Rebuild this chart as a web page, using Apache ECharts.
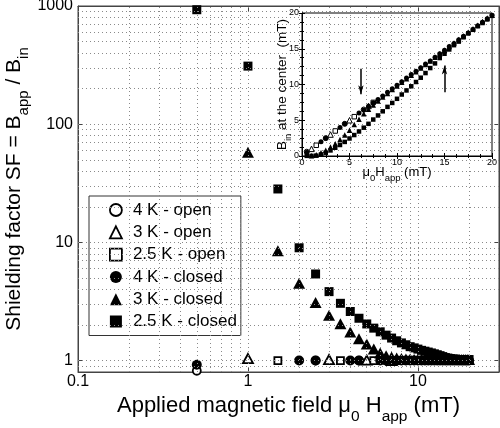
<!DOCTYPE html>
<html><head><meta charset="utf-8">
<script src="https://cdn.jsdelivr.net/npm/echarts@6/dist/echarts.min.js"></script>
<style>html,body{margin:0;padding:0;background:#fff}#c{width:500px;height:428px}</style>
</head><body><div id="c"></div>
<script>
// ---------- data ----------
// applied field (mT)
const field4Open   = [0.5, 2.5, 4.5, 6.5];
const field3Open   = [1, 3, 5, 7];
const field25Open  = [1.5, 3.5, 5.5, 7.5];
const field4Closed = [0.5, 2, 2.5, 4, 4.5, 6, 6.5, 7, 7.5, 8, 8.5, 9, 9.5, 10, 10.5, 11, 11.5, 12, 12.5, 13, 13.5, 14, 14.5, 15, 15.5, 16, 16.5, 17, 17.5, 18, 18.5, 19, 19.5, 20];
const field3Closed = [1, 1.5, 2, 2.5, 3, 3.5, 4, 4.5, 5, 5.5, 6, 6.5, 7, 7.5, 8, 8.5, 9, 9.5, 10, 10.5, 11, 11.5, 12, 12.5, 13, 13.5, 14, 14.5, 15, 15.5, 16, 16.5, 17, 17.5, 18, 18.5, 19, 19.5, 20];
const field25Closed = [0.5, 1, 1.5, 2, 2.5, 3, 3.5, 4, 4.5, 5, 5.5, 6, 6.5, 7, 7.5, 8, 8.5, 9, 9.5, 10, 10.5, 11, 11.5, 12, 12.5, 13, 13.5, 14, 14.5, 15, 15.5, 16, 16.5, 17, 17.5, 18, 18.5, 19, 19.5, 20];

// shielding factor (main plot)
const sf4Open   = [0.82, 1.0, 1.0, 1.0];
const sf3Open   = [1.04, 1.02, 1.01, 1.0];
const sf25Open  = [1.0, 1.0, 1.0, 1.0];
const sf4Closed = [0.92, 1.0, 1.0, 1.0, 1.0, 1.0, 1.0, 1.0, 1.0, 1.0, 1.0, 1.0, 1.0, 1.0, 1.0, 1.0, 1.0, 1.0, 1.0, 1.0, 1.0, 1.0, 1.0, 1.0, 1.0, 1.0, 1.0, 1.0, 1.0, 1.0, 1.0, 1.0, 1.0, 1.0];
const sf3Closed = [58, 8.5, 4.5, 3.1, 2.42, 2.05, 1.74, 1.53, 1.38, 1.25, 1.16, 1.1, 1.07, 1.05, 1.04, 1.03, 1.03, 1.02, 1.02, 1.02, 1.02, 1.02, 1.02, 1.02, 1.02, 1.02, 1.02, 1.02, 1.02, 1.02, 1.02, 1.02, 1.02, 1.02, 1.02, 1.02, 1.02, 1.02, 1.02];
const sf25Closed = [930, 310, 28.3, 9.0, 5.4, 3.83, 3.05, 2.6, 2.28, 2.04, 1.88, 1.75, 1.64, 1.55, 1.47, 1.41, 1.36, 1.31, 1.28, 1.25, 1.22, 1.2, 1.18, 1.16, 1.14, 1.12, 1.1, 1.08, 1.06, 1.05, 1.04, 1.03, 1.03, 1.02, 1.02, 1.02, 1.02, 1.02, 1.02, 1.02];

// field inside at the centre (inset, mT)
const bin4Open   = [0.6, 2.5, 4.5, 6.5];
const bin3Open   = [1.0, 3.0, 5.0, 7.0];
const bin25Open  = [1.5, 3.5, 5.5, 7.5];
const bin4Closed = [0.54, 2.0, 2.5, 4.0, 4.5, 6.0, 6.45, 6.95, 7.45, 7.9, 8.4, 8.9, 9.4, 9.9, 10.4, 10.9, 11.4, 11.85, 12.35, 12.85, 13.3, 13.8, 14.3, 14.8, 15.3, 15.75, 16.25, 16.75, 17.2, 17.7, 18.2, 18.7, 19.2, 19.7];
const bin3Closed = [0.02, 0.18, 0.45, 0.8, 1.25, 1.7, 2.3, 2.95, 3.6, 4.4, 5.15, 5.9, 6.55, 7.15, 7.7, 8.25, 8.75, 9.3, 9.8, 10.3, 10.8, 11.3, 11.8, 12.3, 12.8, 13.3, 13.8, 14.3, 14.8, 15.3, 15.8, 16.3, 16.8, 17.3, 17.8, 18.3, 18.8, 19.3, 19.7];
const bin25Closed = [0.02, 0.02, 0.05, 0.22, 0.46, 0.78, 1.15, 1.54, 1.97, 2.45, 2.93, 3.43, 3.96, 4.5, 5.1, 5.67, 6.25, 6.87, 7.42, 8.0, 8.6, 9.17, 9.75, 10.35, 10.95, 11.6, 12.3, 12.95, 13.7, 14.3, 14.9, 15.5, 16.0, 16.6, 17.15, 17.65, 18.15, 18.6, 19.1, 19.6];

// legend names
const seriesNames = ['4 K - open', '3 K - open', '2.5 K - open', '4 K - closed', '3 K - closed', '2.5 K - closed'];

// grid line values of the log axes (ticks)
const gridX = [0.2, 0.3, 0.4, 0.5, 0.6, 0.7, 0.8, 0.9, 1, 2, 3, 4, 5, 6, 7, 8, 9, 10, 20];
const gridY = [0.9, 1, 2, 3, 4, 5, 6, 7, 8, 9, 10, 20, 30, 40, 50, 60, 70, 80, 90, 100, 200, 300, 400, 500, 600, 700, 800, 900];

// inset arrows (field mT, B_in mT): start -> tip
const arrowDown = [[6.2, 12.2], [6.2, 8.65]];
const arrowUp   = [[15, 8.9], [15, 12.65]];

// ---------- chart ----------
const FONT = 'Liberation Sans, Arial, Helvetica, sans-serif';
const pairs = (xs, ys) => xs.map((x, i) => [x, ys[i]]);
const decadeLabel = v => {
  const l = Math.log10(v);
  if (Math.abs(l - Math.round(l)) > 1e-6) return '';
  return String(+Math.pow(10, Math.round(l)).toPrecision(3));
};

const nameStyle = (fs, sfs, lh, pad) => ({
  fontSize: fs, fontFamily: FONT, color: '#000', lineHeight: lh,
  rich: { s: { fontSize: sfs, fontFamily: FONT, color: '#000', lineHeight: lh, padding: [pad, 0, 0, 0] } }
});

const openStyle = { color: '#fff', borderColor: '#000', borderWidth: 1.8, opacity: 1 };
const closedStyle = { color: '#000', opacity: 1 };
const openStyleI = { color: '#fff', borderColor: '#000', borderWidth: 1, opacity: 1 };

const mainSpecs = [
  { xs: field4Open, ys: sf4Open, sym: 'circle', size: 8, st: openStyle },
  { xs: field3Open, ys: sf3Open, sym: 'triangle', size: [10, 9], st: openStyle },
  { xs: field25Open, ys: sf25Open, sym: 'rect', size: 7, st: openStyle },
  { xs: field4Closed, ys: sf4Closed, sym: 'circle', size: 10, st: closedStyle },
  { xs: field3Closed, ys: sf3Closed, sym: 'triangle', size: [12, 11], st: closedStyle },
  { xs: field25Closed, ys: sf25Closed, sym: 'rect', size: 9, st: closedStyle }
];
const insetSpecs = [
  { xs: field4Open, ys: bin4Open, sym: 'circle', size: 5, st: openStyleI },
  { xs: field3Open, ys: bin3Open, sym: 'triangle', size: 5.5, st: openStyleI },
  { xs: field25Open, ys: bin25Open, sym: 'rect', size: 4.5, st: openStyleI },
  { xs: field4Closed, ys: bin4Closed, sym: 'circle', size: 5, st: closedStyle },
  { xs: field3Closed, ys: bin3Closed, sym: 'triangle', size: 5.5, st: closedStyle },
  { xs: field25Closed, ys: bin25Closed, sym: 'rect', size: 4.5, st: closedStyle }
];

const series = [];
series.push({
  type: 'line', xAxisIndex: 0, yAxisIndex: 0, data: [], z: 1, silent: true,
  markLine: {
    silent: true, symbol: ['none', 'none'], label: { show: false }, animation: false,
    lineStyle: { color: '#8a8a8a', type: [1, 3], width: 1 },
    emphasis: { disabled: true },
    data: gridX.map(v => ({ xAxis: v })).concat(gridY.map(v => ({ yAxis: v })))
  }
});
mainSpecs.forEach((s, i) => series.push({
  name: seriesNames[i], type: 'scatter', xAxisIndex: 0, yAxisIndex: 0, z: 2,
  symbol: s.sym, symbolSize: s.size, itemStyle: s.st, data: pairs(s.xs, s.ys),
  emphasis: { disabled: true }
}));
insetSpecs.forEach((s, i) => series.push({
  name: 'inset ' + seriesNames[i], type: 'scatter', xAxisIndex: 2, yAxisIndex: 2, z: 7,
  symbol: s.sym, symbolSize: s.size, itemStyle: s.st, data: pairs(s.xs, s.ys),
  emphasis: { disabled: true }
}));
series.push({
  type: 'line', xAxisIndex: 2, yAxisIndex: 2, data: [], z: 8, silent: true,
  markLine: {
    silent: true, symbol: ['none', 'arrow'], symbolSize: [4, 9], label: { show: false }, animation: false,
    lineStyle: { color: '#000', type: 'solid', width: 1.5, opacity: 1 },
    itemStyle: { color: '#000' },
    emphasis: { disabled: true },
    data: [
      [{ coord: arrowDown[0] }, { coord: arrowDown[1] }],
      [{ coord: arrowUp[0] }, { coord: arrowUp[1] }]
    ]
  }
});

const mainAxisLine = { show: true, lineStyle: { color: '#444', width: 1 } };
const mainTick = { show: true, inside: true, length: 5, lineStyle: { color: '#444' } };
const insetAxisLine = { show: true, lineStyle: { color: '#000', width: 1 } };
const insetTick = { show: true, inside: true, length: 3, lineStyle: { color: '#000' } };
const insetMinor = { show: true, splitNumber: 4, length: 2, lineStyle: { color: '#000' } };

const option = {
  animation: false,
  backgroundColor: '#fff',
  grid: [
    { left: 78, top: 6, width: 421, height: 366, show: true, borderColor: '#444', borderWidth: 1, backgroundColor: 'transparent', z: 0, containLabel: false, outerBoundsMode: 'none' },
    { left: 302, top: 13, width: 190, height: 143, show: true, borderColor: '#000', borderWidth: 1, backgroundColor: '#fff', z: 5, containLabel: false, outerBoundsMode: 'none' }
  ],
  legend: {
    orient: 'vertical', left: 89, top: 196, padding: [4, 4, 4, 20], itemGap: 2.3,
    itemWidth: 12, itemHeight: 12, borderColor: '#333', borderWidth: 1, backgroundColor: '#fff',
    selectedMode: false, z: 4,
    textStyle: { fontSize: 17, lineHeight: 20, fontFamily: FONT, color: '#000', padding: [0, 0, 0, 6] },
    data: seriesNames.map((n, i) => i < 3 ? { name: n, itemStyle: { borderWidth: 1.8, borderColor: '#000', color: '#fff' } } : { name: n })
  },
  xAxis: [
    {
      type: 'log', logBase: 10, gridIndex: 0, min: 0.1, max: 30, position: 'bottom',
      axisLine: mainAxisLine, axisTick: mainTick, splitLine: { show: false },
      axisLabel: { formatter: decadeLabel, fontSize: 16, fontFamily: FONT, color: '#000', margin: 2 },
      name: 'Applied magnetic field μ{s|0} H{s|app} (mT)', nameLocation: 'middle', nameGap: 21,
      nameMoveOverlap: false,
      nameTextStyle: nameStyle(22, 15.5, 26, 22)
    },
    {
      type: 'log', logBase: 10, gridIndex: 0, min: 0.1, max: 30, position: 'top',
      axisLine: mainAxisLine, axisTick: mainTick, splitLine: { show: false }, axisLabel: { show: false }
    },
    {
      type: 'value', gridIndex: 1, min: 0, max: 20, interval: 5, position: 'bottom', z: 6,
      axisLine: insetAxisLine, axisTick: insetTick, minorTick: insetMinor, splitLine: { show: false },
      axisLabel: { fontSize: 9, fontFamily: FONT, color: '#000', margin: 2 },
      name: 'μ{s|0}H{s|app} (mT)', nameLocation: 'middle', nameGap: 8, nameMoveOverlap: false,
      nameTextStyle: nameStyle(13, 9.5, 16, 12)
    },
    {
      type: 'value', gridIndex: 1, min: 0, max: 20, interval: 5, position: 'top', z: 6,
      axisLine: insetAxisLine, axisTick: insetTick, minorTick: insetMinor, splitLine: { show: false },
      axisLabel: { show: false }
    }
  ],
  yAxis: [
    {
      type: 'log', logBase: 10, gridIndex: 0, min: 0.8, max: 1000, position: 'left',
      axisLine: mainAxisLine, axisTick: mainTick, splitLine: { show: false },
      axisLabel: { formatter: decadeLabel, fontSize: 16, fontFamily: FONT, color: '#000', margin: 5 },
      name: 'Shielding factor SF = B{s|app} / B{s|in}', nameLocation: 'middle', nameRotate: 90, nameGap: 51,
      nameMoveOverlap: false,
      nameTextStyle: nameStyle(21, 15, 26, 20)
    },
    {
      type: 'log', logBase: 10, gridIndex: 0, min: 0.8, max: 1000, position: 'right',
      axisLine: mainAxisLine, axisTick: mainTick, splitLine: { show: false }, axisLabel: { show: false }
    },
    {
      type: 'value', gridIndex: 1, min: 0, max: 20, interval: 5, position: 'left', z: 6,
      axisLine: insetAxisLine, axisTick: insetTick, minorTick: insetMinor, splitLine: { show: false },
      axisLabel: { fontSize: 9, fontFamily: FONT, color: '#000', margin: 3 },
      name: 'B{s|in} at the center  (mT)', nameLocation: 'middle', nameRotate: 90, nameGap: 12,
      nameMoveOverlap: false,
      nameTextStyle: nameStyle(13.5, 9.5, 16, 12)
    },
    {
      type: 'value', gridIndex: 1, min: 0, max: 20, interval: 5, position: 'right', z: 6,
      axisLine: insetAxisLine, axisTick: insetTick, minorTick: insetMinor, splitLine: { show: false },
      axisLabel: { show: false }
    }
  ],
  series: series
};

const chart = echarts.init(document.getElementById('c'), null, { renderer: 'canvas' });
chart.setOption(option);
</script></body></html>
